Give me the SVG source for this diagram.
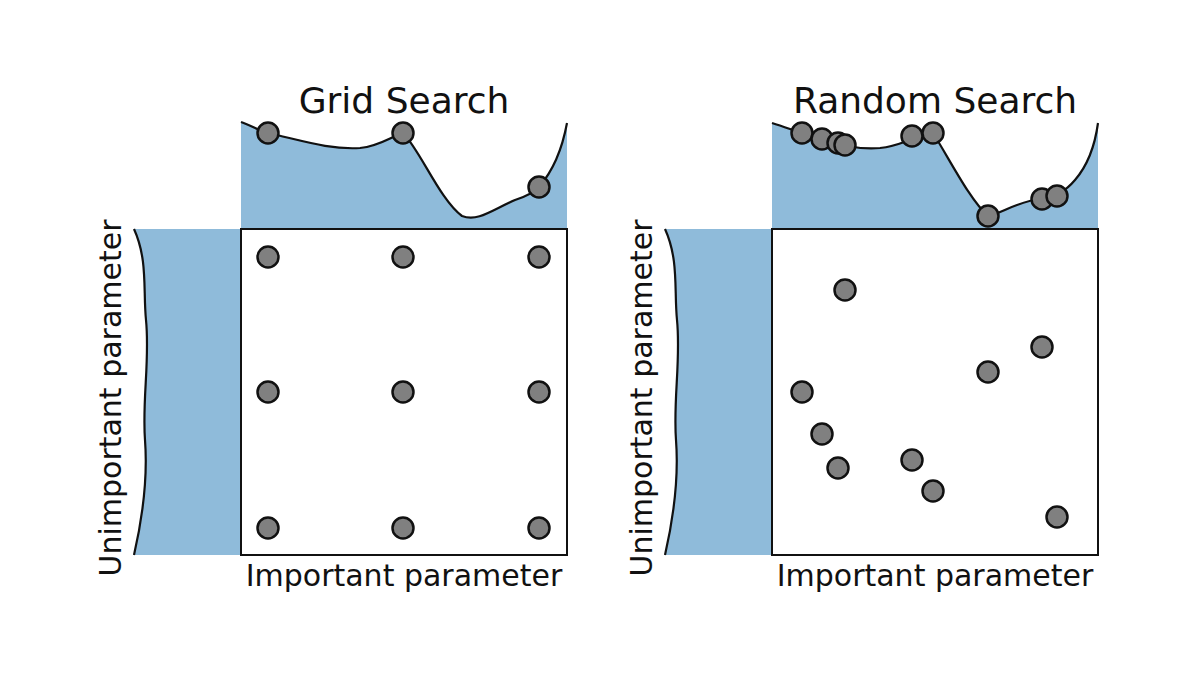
<svg xmlns="http://www.w3.org/2000/svg" width="1200" height="675" viewBox="0 0 1200 675">
<style>
.fill{fill:#8fbbda;stroke:none}
.ln{fill:none;stroke:#111;stroke-width:2.2}
.box{fill:#fff;stroke:#111;stroke-width:2}
.pt{fill:#808080;stroke:#111;stroke-width:2.5}
text{font-family:"DejaVu Sans",sans-serif;fill:#111}
.t{font-size:36px}
.l{font-size:30px}
</style>
<rect width="1200" height="675" fill="#fff"/>
<g id="grid">
<path class="fill" d="M241,229 L241,122 C252,126 260,131 268,133 C300,140 330,150 360,148 C380,146 392,136 403,133 C420,150 440,200 462,216 C478,222 492,210 515,200 C528,196 534,192 539,187 C552,172 562,150 567,123 L567,229 Z"/>
<path class="ln" d="M241,122 C252,126 260,131 268,133 C300,140 330,150 360,148 C380,146 392,136 403,133 C420,150 440,200 462,216 C478,222 492,210 515,200 C528,196 534,192 539,187 C552,172 562,150 567,123"/>
<path class="fill" d="M134,229 L241,229 L241,555 L134,555 C142,520 148,480 145,440 C142,400 150,360 146,320 C143,290 148,260 134,229 Z"/>
<path class="ln" d="M134,229 C148,260 143,290 146,320 C150,360 142,400 145,440 C148,480 142,520 134,555"/>
<rect class="box" x="241" y="229" width="326" height="326"/>
<g id="grid-points">
<circle class="pt" cx="268" cy="133" r="10.5"/><circle class="pt" cx="403" cy="133" r="10.5"/><circle class="pt" cx="539" cy="187" r="10.5"/>
<circle class="pt" cx="268" cy="257" r="10.5"/><circle class="pt" cx="403" cy="257" r="10.5"/><circle class="pt" cx="539" cy="257" r="10.5"/>
<circle class="pt" cx="268" cy="392" r="10.5"/><circle class="pt" cx="403" cy="392" r="10.5"/><circle class="pt" cx="539" cy="392" r="10.5"/>
<circle class="pt" cx="268" cy="528" r="10.5"/><circle class="pt" cx="403" cy="528" r="10.5"/><circle class="pt" cx="539" cy="528" r="10.5"/>
</g>
<text class="t" x="404" y="113" text-anchor="middle">Grid Search</text>
<text class="l" x="404" y="586" text-anchor="middle">Important parameter</text>
<text class="l" transform="translate(121,398) rotate(-90)" text-anchor="middle">Unimportant parameter</text>
</g>
<g id="random">
<path class="fill" d="M772,229 L772,123 C785,127 795,131 802,133 C830,142 850,150 880,148 C900,146 910,138 933,133 C950,160 970,200 988,216 C1000,214 1020,200 1042,199 C1055,196 1065,192 1075,180 C1088,165 1095,145 1098,123 L1098,229 Z"/>
<path class="ln" d="M772,123 C785,127 795,131 802,133 C830,142 850,150 880,148 C900,146 910,138 933,133 C950,160 970,200 988,216 C1000,214 1020,200 1042,199 C1055,196 1065,192 1075,180 C1088,165 1095,145 1098,123"/>
<path class="fill" d="M665,229 L772,229 L772,555 L665,555 C673,520 679,480 676,440 C673,400 681,360 677,320 C674,290 679,260 665,229 Z"/>
<path class="ln" d="M665,229 C679,260 674,290 677,320 C681,360 673,400 676,440 C679,480 673,520 665,555"/>
<rect class="box" x="772" y="229" width="326" height="326"/>
<g id="random-points">
<circle class="pt" cx="802" cy="133" r="10.5"/><circle class="pt" cx="822" cy="139" r="10.5"/><circle class="pt" cx="838" cy="143" r="10.5"/><circle class="pt" cx="845" cy="145" r="10.5"/>
<circle class="pt" cx="912" cy="136" r="10.5"/><circle class="pt" cx="933" cy="133" r="10.5"/><circle class="pt" cx="988" cy="216" r="10.5"/><circle class="pt" cx="1042" cy="199" r="10.5"/><circle class="pt" cx="1057" cy="196" r="10.5"/>
<circle class="pt" cx="845" cy="290" r="10.5"/><circle class="pt" cx="1042" cy="347" r="10.5"/><circle class="pt" cx="988" cy="372" r="10.5"/>
<circle class="pt" cx="802" cy="392" r="10.5"/><circle class="pt" cx="822" cy="434" r="10.5"/><circle class="pt" cx="838" cy="468" r="10.5"/>
<circle class="pt" cx="912" cy="460" r="10.5"/><circle class="pt" cx="933" cy="491" r="10.5"/><circle class="pt" cx="1057" cy="517" r="10.5"/>
</g>
<text class="t" x="935" y="113" text-anchor="middle">Random Search</text>
<text class="l" x="935" y="586" text-anchor="middle">Important parameter</text>
<text class="l" transform="translate(652,398) rotate(-90)" text-anchor="middle">Unimportant parameter</text>
</g>
</svg>
